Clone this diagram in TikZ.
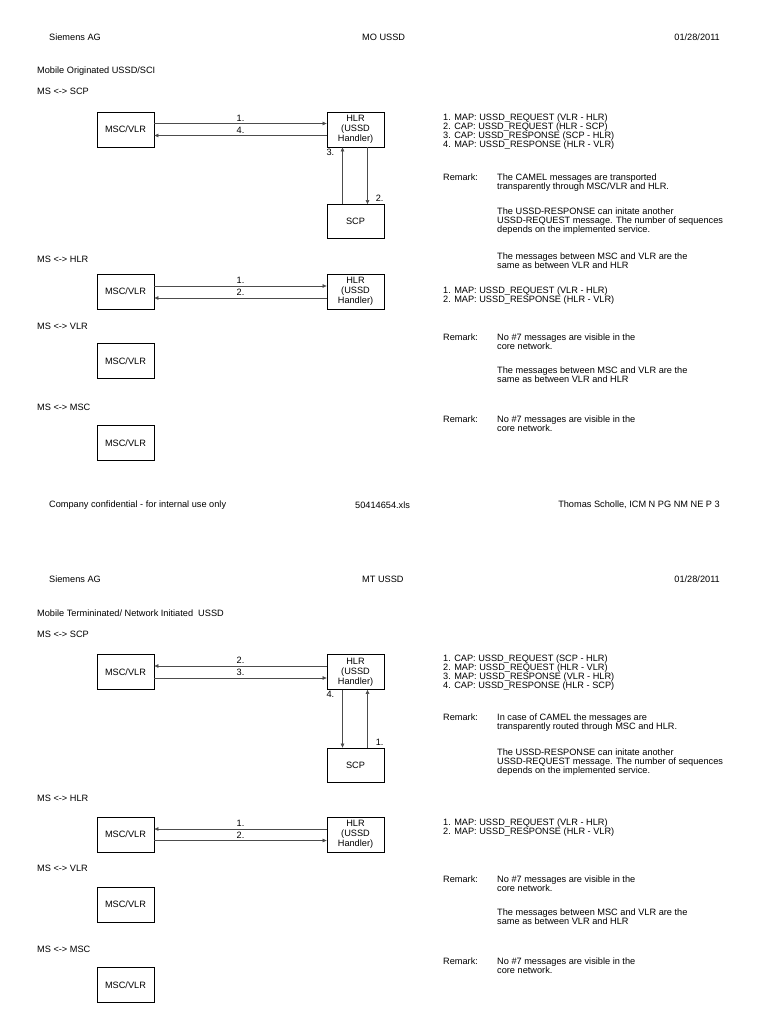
\documentclass[tikz,border=0pt]{standalone}
\usepackage{fontspec}
\setmainfont{Liberation Sans}
\usepackage{tikz}
\usetikzlibrary{arrows.meta}
\newcommand{\fs}{\fontsize{9.2}{9}\selectfont}
\tikzset{
  box/.style={draw=black, line width=0.8pt, minimum width=57pt, minimum height=35pt, inner sep=0pt, align=center, font=\fontsize{9.2}{9.8}\selectfont},
  msg/.style={draw=black!70, line width=0.6pt, -{Triangle[length=4pt,width=3.5pt]}},
  lab/.style={font=\fs, inner sep=0pt},
  hdr/.style={font=\fs, inner sep=0pt, anchor=west},
  txt/.style={font=\fs, inner sep=0pt, anchor=north west, align=left}
}
\begin{document}
\begin{tikzpicture}[x=1pt, y=-1pt]
  \fill[white] (0,0) rectangle (768,1024);
  \useasboundingbox (0,0) rectangle (768,1024);

  % page 1: MO USSD
  \node[hdr] (sie1) at (49,37) {Siemens AG};
  \node[hdr] (mo) at (362,37) {MO USSD};
  \node[hdr, anchor=east] (date1) at (720,37) {01/28/2011};
  \node[hdr] (tit1) at (37,71) {Mobile Originated USSD/SCI};

  \node[hdr] (sec1) at (37,91) {MS <-> SCP};
  \node[box] (msca) at (125.5,129.5) {MSC/VLR};
  \node[box] (hlra) at (355.5,129.5) {HLR\\(USSD\\Handler)};
  \node[box, minimum height=34pt] (scpa) at (355.5,221.5) {SCP};
  \draw[msg] ([yshift=6pt]msca.east) -- ([yshift=6pt]hlra.west) node[midway, lab, above=2pt] {1.};
  \draw[msg] ([yshift=-6pt]hlra.west) -- ([yshift=-6pt]msca.east) node[midway, lab, above=2pt] {4.};
  \draw[msg] ([xshift=12pt]hlra.south) -- ([xshift=12pt]scpa.north) node[pos=1, lab, anchor=south west, xshift=8pt, yshift=2pt] {2.};
  \draw[msg] ([xshift=-13pt]scpa.north) -- ([xshift=-13pt]hlra.south) node[pos=1, lab, anchor=north east, xshift=-8pt, yshift=-1pt] {3.};

  \node[txt] (lsta) at (443,113.5) {1. MAP: USSD\_REQUEST (VLR - HLR)\\2. CAP: USSD\_REQUEST (HLR - SCP)\\3. CAP: USSD\_RESPONSE (SCP - HLR)\\4. MAP: USSD\_RESPONSE (HLR - VLR)};
  \node[txt] (rema) at (443,173.5) {Remark:};
  \node[txt] (rema1) at (497,173.5) {The CAMEL messages are transported\\transparently through MSC/VLR and HLR.};
  \node[txt] (rema2) at (497,207.5) {The USSD-RESPONSE can initate another\\USSD-REQUEST message. The number of sequences\\depends on the implemented service.};
  \node[txt] (rema3) at (497,252.5) {The messages between MSC and VLR are the\\same as between VLR and HLR};

  \node[hdr] (sec2) at (37,259) {MS <-> HLR};
  \node[box] (mscb) at (125.5,291.5) {MSC/VLR};
  \node[box] (hlrb) at (355.5,291.5) {HLR\\(USSD\\Handler)};
  \draw[msg] ([yshift=5.5pt]mscb.east) -- ([yshift=5.5pt]hlrb.west) node[midway, lab, above=2pt] {1.};
  \draw[msg] ([yshift=-6.5pt]hlrb.west) -- ([yshift=-6.5pt]mscb.east) node[midway, lab, above=2pt] {2.};
  \node[txt] (lstb) at (443,286.5) {1. MAP: USSD\_REQUEST (VLR - HLR)\\2. MAP: USSD\_RESPONSE (HLR - VLR)};

  \node[hdr] (sec3) at (37,326) {MS <-> VLR};
  \node[box] (mscc) at (125.5,361) {MSC/VLR};
  \node[txt] (remc) at (443,333.5) {Remark:};
  \node[txt] (remc1) at (497,333.5) {No \#7 messages are visible in the\\core network.};
  \node[txt] (remc2) at (497,366.5) {The messages between MSC and VLR are the\\same as between VLR and HLR};

  \node[hdr] (sec4) at (37,407) {MS <-> MSC};
  \node[box] (mscd) at (125.5,443) {MSC/VLR};
  \node[txt] (remd) at (443,415.5) {Remark:};
  \node[txt] (remd1) at (497,415.5) {No \#7 messages are visible in the\\core network.};

  \node[hdr] (conf) at (49,505) {Company confidential - for internal use only};
  \node[hdr] (file) at (355,505) {50414654.xls};
  \node[hdr, anchor=east] (auth) at (720,505) {Thomas Scholle, ICM N PG NM NE P 3};

  % page 2: MT USSD
  \node[hdr] (sie2) at (49,579) {Siemens AG};
  \node[hdr] (mt) at (362,579) {MT USSD};
  \node[hdr, anchor=east] (date2) at (720,579) {01/28/2011};
  \node[hdr] (tit2) at (37,613) {Mobile Termininated/ Network Initiated\ \ USSD};

  \node[hdr] (sec5) at (37,634) {MS <-> SCP};
  \node[box] (msce) at (125.5,672) {MSC/VLR};
  \node[box] (hlre) at (355.5,672) {HLR\\(USSD\\Handler)};
  \node[box, minimum height=34pt] (scpe) at (355.5,765) {SCP};
  \draw[msg] ([yshift=6pt]hlre.west) -- ([yshift=6pt]msce.east) node[midway, lab, above=2pt] {2.};
  \draw[msg] ([yshift=-6pt]msce.east) -- ([yshift=-6pt]hlre.west) node[midway, lab, above=2pt] {3.};
  \draw[msg] ([xshift=12pt]scpe.north) -- ([xshift=12pt]hlre.south) node[pos=0, lab, anchor=south west, xshift=8pt, yshift=2pt] {1.};
  \draw[msg] ([xshift=-13pt]hlre.south) -- ([xshift=-13pt]scpe.north) node[pos=0, lab, anchor=north east, xshift=-8pt, yshift=-1pt] {4.};

  \node[txt] (lste) at (443,654.5) {1. CAP: USSD\_REQUEST (SCP - HLR)\\2. MAP: USSD\_REQUEST (HLR - VLR)\\3. MAP: USSD\_RESPONSE (VLR - HLR)\\4. CAP: USSD\_RESPONSE (HLR - SCP)};
  \node[txt] (reme) at (443,713.5) {Remark:};
  \node[txt] (reme1) at (497,713.5) {In case of CAMEL the messages are\\transparently routed through MSC and HLR.};
  \node[txt] (reme2) at (497,748.5) {The USSD-RESPONSE can initate another\\USSD-REQUEST message. The number of sequences\\depends on the implemented service.};

  \node[hdr] (sec6) at (37,798) {MS <-> HLR};
  \node[box] (mscf) at (125.5,834.5) {MSC/VLR};
  \node[box] (hlrf) at (355.5,834.5) {HLR\\(USSD\\Handler)};
  \draw[msg] ([yshift=5.5pt]hlrf.west) -- ([yshift=5.5pt]mscf.east) node[midway, lab, above=2pt] {1.};
  \draw[msg] ([yshift=-6pt]mscf.east) -- ([yshift=-6pt]hlrf.west) node[midway, lab, above=2pt] {2.};
  \node[txt] (lstf) at (443,818.5) {1. MAP: USSD\_REQUEST (VLR - HLR)\\2. MAP: USSD\_RESPONSE (HLR - VLR)};

  \node[hdr] (sec7) at (37,868) {MS <-> VLR};
  \node[box] (mscg) at (125.5,904.5) {MSC/VLR};
  \node[txt] (remg) at (443,875.5) {Remark:};
  \node[txt] (remg1) at (497,875.5) {No \#7 messages are visible in the\\core network.};
  \node[txt] (remg2) at (497,908.5) {The messages between MSC and VLR are the\\same as between VLR and HLR};

  \node[hdr] (sec8) at (37,949) {MS <-> MSC};
  \node[box] (msch) at (125.5,985) {MSC/VLR};
  \node[txt] (remh) at (443,957.5) {Remark:};
  \node[txt] (remh1) at (497,957.5) {No \#7 messages are visible in the\\core network.};
\end{tikzpicture}
\end{document}
